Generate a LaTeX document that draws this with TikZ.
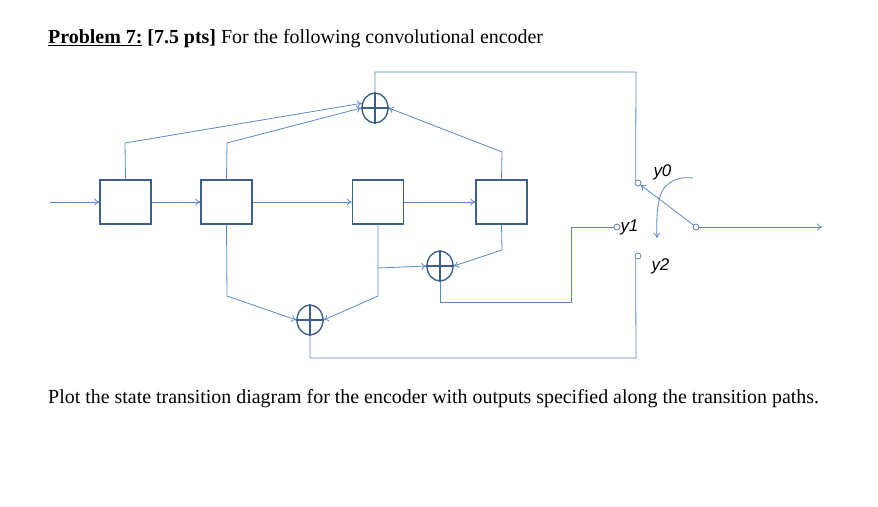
\documentclass[tikz,border=0pt]{standalone}
\usepackage{fontspec}
\setmainfont{Liberation Serif}
\newfontfamily\sansf{Liberation Sans}
\usetikzlibrary{arrows.meta,shapes.geometric}
\definecolor{ln}{HTML}{5B88C4}
\definecolor{bx}{HTML}{3C5F8E}
\begin{document}
\begin{tikzpicture}[x=1bp,y=-1bp,
  wire/.style={draw=ln,line width=0.8pt},
  arr/.style={wire,-{To[length=5pt,width=7pt]}},
  reg/.style={draw=bx,line width=1.4pt,minimum width=51bp,minimum height=44bp,inner sep=0pt},
  xr/.style={draw=bx,line width=1.4pt,ellipse,minimum width=26bp,minimum height=30bp,inner sep=0pt},
  ct/.style={circle,draw=bx,line width=0.6pt,minimum size=6bp,inner sep=0pt},
  lab/.style={font=\sansf\itshape\fontsize{17}{17}\selectfont,text=black}]
\useasboundingbox (0,0) rectangle (878,507);
\node[anchor=base west,inner sep=0pt,font=\fontsize{20}{24}\selectfont] (t) at (48,44) {\textbf{\underline{Problem 7:} [7.5 pts]} For the following convolutional encoder};
\node[anchor=base west,inner sep=0pt,font=\fontsize{20}{24}\selectfont] (b) at (48,403) {Plot the state transition diagram for the encoder with outputs specified along the transition paths.};
\node[reg] (r1) at (125.5,202) {};
\node[reg] (r2) at (226.5,202) {};
\node[reg] (r3) at (378,202) {};
\node[reg] (r4) at (501.5,202) {};
\foreach \n/\x/\y in {a/375/108,b/440/266,c/310/320}{
  \node[xr] (\n) at (\x,\y) {};
  \draw[bx,line width=1.4pt] (\n.north) -- (\n.south) (\n.west) -- (\n.east);
}
\coordinate (in) at (50,202);
\draw[arr] (in) -- (r1.west);
\draw[arr] (r1.east) -- (r2.west);
\draw[arr] (r2.east) -- (r3.west);
\draw[arr] (r3.east) -- (r4.west);
\draw[arr] (r1.north) -- (125,143) -- (a.160);
\draw[arr] (r2.north) -- (227,143) -- (a.west);
\draw[arr] (r4.north) -- (502,152) -- (a.east);
\node[ct] (y0) at (638,183) {};
\node[ct] (y1) at (617,227) {};
\node[ct] (y2) at (638,256) {};
\node[ct] (p) at (696,227) {};
\node[lab,anchor=west] at (650,172) {y0};
\node[lab,anchor=west] at (617,227) {y1};
\node[lab,anchor=west] at (648,266) {y2};
\coordinate (out) at (822,227);
\draw[arr] (p.east) -- (out);
\draw[arr] (p) -- (y0);
\coordinate (cs) at (693,178);
\coordinate (ce) at (657,238);
\draw[arr] (cs) .. controls (675,176) and (668,184) .. (664,188) .. controls (658,196) and (656,215) .. (ce);
\draw[wire] (a.north) -- (375,72) -- (636,72) -- (y0.north west);
\draw[wire] (y1.west) -- (571,227) -- (571,302) -- (440,302) -- (b.south);
\draw[wire] (y2.south west) -- (636,358) -- (310,358) -- (c.south);
\draw[arr] (r2.south) -- (227,296) -- (c.west);
\draw[arr] (r3.south) -- (378,296) -- (c.east);
\draw[arr] (378,268) -- (b.west);
\draw[arr] (r4.south) -- (502,250) -- (b.east);
\end{tikzpicture}
\end{document}
